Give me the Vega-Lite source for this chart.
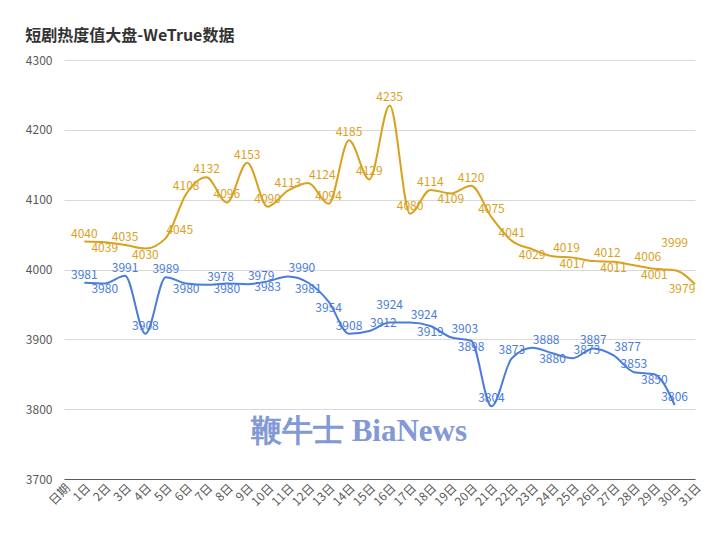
{
  "$schema": "https://vega.github.io/schema/vega-lite/v6.json",
  "description": "短剧热度值大盘-WeTrue数据, two daily series",
  "autosize": "none",
  "width": 631,
  "height": 419,
  "padding": {"left": 64, "top": 60, "right": 24, "bottom": 63},
  "background": "#ffffff",
  "title": {
    "text": "短剧热度值大盘-WeTrue数据",
    "anchor": "start",
    "frame": "bounds",
    "font": "Noto Sans CJK SC",
    "fontSize": 16,
    "fontWeight": "bold",
    "color": "#333333",
    "offset": 10
  },
  "datasets": {
    "daily": [
      {"day": "1日", "系列1": 4040, "系列2": 3981},
      {"day": "2日", "系列1": 4039, "系列2": 3980},
      {"day": "3日", "系列1": 4035, "系列2": 3991},
      {"day": "4日", "系列1": 4030, "系列2": 3908},
      {"day": "5日", "系列1": 4045, "系列2": 3989},
      {"day": "6日", "系列1": 4108, "系列2": 3980},
      {"day": "7日", "系列1": 4132, "系列2": 3978},
      {"day": "8日", "系列1": 4096, "系列2": 3980},
      {"day": "9日", "系列1": 4153, "系列2": 3979},
      {"day": "10日", "系列1": 4090, "系列2": 3983},
      {"day": "11日", "系列1": 4113, "系列2": 3990},
      {"day": "12日", "系列1": 4124, "系列2": 3981},
      {"day": "13日", "系列1": 4094, "系列2": 3954},
      {"day": "14日", "系列1": 4185, "系列2": 3908},
      {"day": "15日", "系列1": 4129, "系列2": 3912},
      {"day": "16日", "系列1": 4235, "系列2": 3924},
      {"day": "17日", "系列1": 4080, "系列2": 3924},
      {"day": "18日", "系列1": 4114, "系列2": 3919},
      {"day": "19日", "系列1": 4109, "系列2": 3903},
      {"day": "20日", "系列1": 4120, "系列2": 3898},
      {"day": "21日", "系列1": 4075, "系列2": 3804},
      {"day": "22日", "系列1": 4041, "系列2": 3873},
      {"day": "23日", "系列1": 4029, "系列2": 3888},
      {"day": "24日", "系列1": 4019, "系列2": 3880},
      {"day": "25日", "系列1": 4017, "系列2": 3873},
      {"day": "26日", "系列1": 4012, "系列2": 3887},
      {"day": "27日", "系列1": 4011, "系列2": 3877},
      {"day": "28日", "系列1": 4006, "系列2": 3853},
      {"day": "29日", "系列1": 4001, "系列2": 3850},
      {"day": "30日", "系列1": 3999, "系列2": 3806},
      {"day": "31日", "系列1": 3979}
    ],
    "watermark": [{"day": "14日", "value": 3768, "label": "鞭牛士 BiaNews"}]
  },
  "encoding": {
    "x": {
      "field": "day",
      "type": "ordinal",
      "scale": {
        "type": "point",
        "padding": 0,
        "domain": ["日期", "1日", "2日", "3日", "4日", "5日", "6日", "7日", "8日", "9日", "10日", "11日", "12日", "13日", "14日", "15日", "16日", "17日", "18日", "19日", "20日", "21日", "22日", "23日", "24日", "25日", "26日", "27日", "28日", "29日", "30日", "31日"]
      },
      "axis": {
        "title": null,
        "labelAngle": -45,
        "labelAlign": "right",
        "labelBaseline": "top",
        "labelPadding": 3,
        "labelFontSize": 12,
        "labelColor": "#595959",
        "labelFont": "Noto Sans CJK SC",
        "labelOverlap": false,
        "ticks": false,
        "grid": false,
        "domainColor": "#595959",
        "domainWidth": 1.2
      }
    },
    "y": {
      "field": "value",
      "type": "quantitative",
      "scale": {"domain": [3700, 4300], "nice": false, "zero": false},
      "axis": {
        "title": null,
        "format": "d",
        "values": [3700, 3800, 3900, 4000, 4100, 4200, 4300],
        "labelFontSize": 12,
        "labelColor": "#595959",
        "labelFont": "Noto Sans CJK SC",
        "labelPadding": 12,
        "ticks": false,
        "domain": false,
        "gridColor": "#d9d9d9",
        "gridWidth": 1
      }
    }
  },
  "layer": [
    {
      "data": {"name": "daily"},
      "transform": [
        {"fold": ["系列1", "系列2"]},
        {"filter": "isValid(datum.value)"}
      ],
      "encoding": {
        "color": {
          "field": "key",
          "type": "nominal",
          "scale": {"domain": ["系列1", "系列2"], "range": ["#D9A21E", "#4A7CDB"]},
          "legend": null
        }
      },
      "layer": [
        {
          "mark": {"type": "line", "interpolate": "monotone", "strokeWidth": 2}
        },
        {
          "transform": [
            {"filter": "(datum.key === '系列1' && indexof(['1日','3日','6日','7日','8日','9日','10日','11日','13日','14日','15日','16日','17日','18日','20日','21日','22日'], datum.day) >= 0) || (datum.key === '系列2' && indexof(['1日','3日','4日','5日','14日','21日','22日','26日','28日','30日'], datum.day) >= 0)"}
          ],
          "mark": {"type": "text", "font": "Noto Sans CJK SC", "fontSize": 12, "baseline": "middle", "dy": -8},
          "encoding": {"text": {"field": "value", "type": "quantitative"}}
        },
        {
          "transform": [
            {"filter": "(datum.key === '系列1' && indexof(['5日','12日','24日','26日','28日'], datum.day) >= 0) || (datum.key === '系列2' && indexof(['7日','9日','11日','15日','17日','19日','23日','25日','27日'], datum.day) >= 0)"}
          ],
          "mark": {"type": "text", "font": "Noto Sans CJK SC", "fontSize": 12, "baseline": "middle", "dx": 14, "dy": -8},
          "encoding": {"text": {"field": "value", "type": "quantitative"}}
        },
        {
          "transform": [
            {"filter": "(datum.key === '系列1' && indexof(['2日','4日','19日','23日','25日','27日','29日'], datum.day) >= 0) || (datum.key === '系列2' && indexof(['2日','6日','8日','10日','12日','13日','18日','20日','24日','29日'], datum.day) >= 0)"}
          ],
          "mark": {"type": "text", "font": "Noto Sans CJK SC", "fontSize": 12, "baseline": "middle", "dy": 6},
          "encoding": {"text": {"field": "value", "type": "quantitative"}}
        },
        {
          "transform": [{"filter": "datum.key === '系列1' && datum.day === '30日'"}],
          "mark": {"type": "text", "font": "Noto Sans CJK SC", "fontSize": 12, "baseline": "middle", "dy": -27},
          "encoding": {"text": {"field": "value", "type": "quantitative"}}
        },
        {
          "transform": [{"filter": "datum.key === '系列2' && datum.day === '16日'"}],
          "mark": {"type": "text", "font": "Noto Sans CJK SC", "fontSize": 12, "baseline": "middle", "dy": -18},
          "encoding": {"text": {"field": "value", "type": "quantitative"}}
        },
        {
          "transform": [{"filter": "datum.key === '系列1' && datum.day === '31日'"}],
          "mark": {"type": "text", "font": "Noto Sans CJK SC", "fontSize": 12, "baseline": "middle", "dx": -13, "dy": 5},
          "encoding": {"text": {"field": "value", "type": "quantitative"}}
        }
      ]
    },
    {
      "data": {"name": "watermark"},
      "mark": {
        "type": "text",
        "font": "Liberation Serif",
        "fontSize": 31,
        "fontWeight": "bold",
        "baseline": "middle",
        "align": "center",
        "dx": 10,
        "fill": "#8399D6"
      },
      "encoding": {
        "text": {"field": "label", "type": "nominal"}
      }
    }
  ],
  "config": {
    "view": {"stroke": null}
  }
}
